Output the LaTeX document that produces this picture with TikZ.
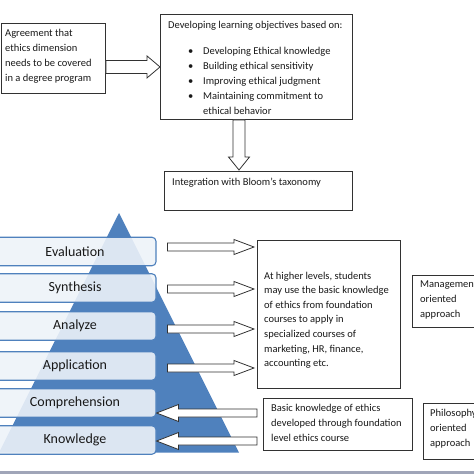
\documentclass[tikz,border=0pt]{standalone}
\usepackage{fontspec}
\setmainfont{Carlito}
\usetikzlibrary{calc}
\definecolor{pyblue}{RGB}{79,129,189}
\definecolor{boxfill}{RGB}{238,243,249}
\definecolor{boxline}{RGB}{50,50,50}
\definecolor{txtcol}{RGB}{25,25,25}
\definecolor{barcol}{RGB}{160,165,184}
\tikzset{
  plainbox/.style={draw=boxline, line width=0.9pt, fill=white, inner sep=0pt, anchor=north west},
  levelbox/.style={draw=pyblue, line width=1.1pt, fill=boxfill, fill opacity=0.89, text opacity=1,
    rounded corners=4pt, minimum width=162pt, minimum height=28.5pt, inner sep=0pt,
    font=\fontsize{14}{16}\selectfont, text=txtcol},
  txt/.style={inner sep=0pt, anchor=base west, text=txtcol, font=\fontsize{10.5}{15}\selectfont},
  blockarrow/.style={draw=boxline, line width=0.8pt, fill=white},
  harrow/.style n args={3}{to path={let \p1=(\tikztostart), \p2=(\tikztotarget) in
    ({\x1},{\y1+#1}) -- ({\x2-(#3)},{\y1+#1}) -- ({\x2-(#3)},{\y1+#2}) -- ({\x2},{\y1})
    -- ({\x2-(#3)},{\y1-#2}) -- ({\x2-(#3)},{\y1-#1}) -- ({\x1},{\y1-#1}) -- cycle}},
  varrow/.style n args={3}{to path={let \p1=(\tikztostart), \p2=(\tikztotarget) in
    ({\x1-#1},{\y1}) -- ({\x1-#1},{\y2+#3}) -- ({\x1-#2},{\y2+#3}) -- ({\x1},{\y2})
    -- ({\x1+#2},{\y2+#3}) -- ({\x1+#1},{\y2+#3}) -- ({\x1+#1},{\y1}) -- cycle}}
}
\begin{document}
\begin{tikzpicture}[x=1pt,y=-1pt]
\useasboundingbox (0,0) rectangle (474,474);
\fill[white] (0,0) rectangle (474,474);
% bottom bar
\fill[barcol] (0,470.5) rectangle (474,474);
% pyramid
\fill[pyblue] (119,213) -- (239,452.5) -- (-1,452.5) -- cycle;

% top boxes
\node[plainbox, minimum width=104.5pt, minimum height=70pt] (agree) at (0.5,23) {};
\node[txt] (agreetext) at (5,36.5) {\parbox[t]{100pt}{Agreement that\\ethics dimension\\needs to be covered\\in a degree program}};

\node[plainbox, minimum width=192pt, minimum height=105pt] (obj) at (160,14) {};
\node[txt] (objtext) at (168,28.5) {\parbox[t]{190pt}{Developing learning objectives based on:\\[11pt]
\hspace*{20pt}\makebox[15pt][l]{•}Developing Ethical knowledge\\
\hspace*{20pt}\makebox[15pt][l]{•}Building ethical sensitivity\\
\hspace*{20pt}\makebox[15pt][l]{•}Improving ethical judgment\\
\hspace*{20pt}\makebox[15pt][l]{•}Maintaining commitment to\\
\hspace*{35pt}ethical behavior}};

\node[plainbox, minimum width=188pt, minimum height=39pt] (integ) at (164,171) {};
\node[txt] (integtext) at (172,185.5) {Integration with Bloom’s taxonomy};

% right side boxes
\node[plainbox, minimum width=143pt, minimum height=148pt] (big) at (257,240) {};
\node[txt, font=\fontsize{10.5}{14.6}\selectfont] (bigtext) at (264,279) {\parbox[t]{135pt}{At higher levels, students\\may use the basic knowledge\\of ethics from foundation\\courses to apply in\\specialized courses of\\marketing, HR, finance,\\accounting etc.}};

\node[plainbox, minimum width=70pt, minimum height=52pt] (mgmt) at (412,275) {};
\node[txt] (mgmttext) at (420,287.5) {\parbox[t]{80pt}{Management\\oriented\\approach}};

\node[plainbox, minimum width=149pt, minimum height=52pt] (basic) at (263,398) {};
\node[txt] (basictext) at (271,411.5) {\parbox[t]{145pt}{Basic knowledge of ethics\\developed through foundation\\level ethics course}};

\node[plainbox, minimum width=60pt, minimum height=56pt] (philo) at (423,403) {};
\node[txt] (philotext) at (430,416.5) {\parbox[t]{80pt}{Philosophy\\oriented\\approach}};

% pyramid level boxes
\node[levelbox] (eval)  at (75,251.5) {Evaluation};
\node[levelbox] (synth) at (75,288) {Synthesis};
\node[levelbox] (anal)  at (75,326) {Analyze};
\node[levelbox] (appl)  at (75,366) {Application};
\node[levelbox] (comp)  at (75,403) {Comprehension};
\node[levelbox] (know)  at (75,440) {Knowledge};

% arrow end points
\coordinate (a0s) at (agree.east |- obj.west);
\coordinate (a0e) at (obj.west);
\coordinate (d0s) at ($(obj.south west)+(79,0)$);
\coordinate (d0e) at ($(integ.north)+(0,-1)$);
\coordinate (bigin) at ($(big.west)+(-3,0)$);
\coordinate (r1s) at ($(eval.east)+(11,-4.5)$);
\coordinate (r2s) at ($(synth.east)+(11,1)$);
\coordinate (r3s) at ($(anal.east)+(11,3)$);
\coordinate (r4s) at ($(appl.east)+(11,2)$);
\coordinate (l1s) at ($(basic.west |- comp.east)+(-6,10)$);
\coordinate (l2s) at ($(basic.west |- know.east)+(-6,1)$);
\coordinate (l1e) at (comp.east);
\coordinate (l2e) at (know.east);

% block arrows
\draw[blockarrow, harrow={6.5pt}{11pt}{13pt}] (a0s) to (a0e);
\draw[blockarrow, varrow={6pt}{10.5pt}{13pt}] (d0s) to (d0e);
\draw[blockarrow, harrow={4pt}{7.5pt}{20pt}] (r1s) to (bigin);
\draw[blockarrow, harrow={4pt}{7.5pt}{20pt}] (r2s) to (bigin);
\draw[blockarrow, harrow={4pt}{7.5pt}{20pt}] (r3s) to (bigin);
\draw[blockarrow, harrow={4pt}{7.5pt}{20pt}] (r4s) to (bigin);
\draw[blockarrow, harrow={4pt}{8.5pt}{-22pt}] (l1s) to (l1e);
\draw[blockarrow, harrow={4pt}{8.5pt}{-22pt}] (l2s) to (l2e);
\end{tikzpicture}
\end{document}
